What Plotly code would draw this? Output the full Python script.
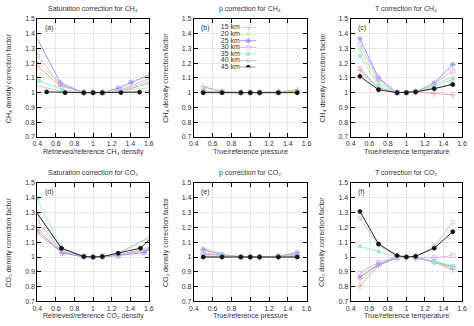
import plotly.graph_objects as go

# ---------------- data ----------------
alt_names = ["15 km", "20 km", "25 km", "30 km", "35 km", "40 km", "45 km"]
x_true = [0.5, 0.7, 0.9, 1.0, 1.1, 1.3, 1.5]

# (a) saturation correction CH4 (x = retrieved/reference density, per series)
a_x = [
    [0.40, 0.65, 0.90, 1.00, 1.10, 1.30, 1.62],
    [0.40, 0.66, 0.90, 1.00, 1.10, 1.30, 1.62],
    [0.37, 0.65, 0.90, 1.00, 1.10, 1.27, 1.41, 1.62],
    [0.40, 0.65, 0.90, 1.00, 1.10, 1.30, 1.62],
    [0.42, 0.67, 0.90, 1.00, 1.10, 1.30, 1.62],
    [0.38, 0.68, 0.90, 1.00, 1.10, 1.30, 1.62],
    [0.50, 0.70, 0.90, 1.00, 1.10, 1.30, 1.50],
]
a_y = [
    [1.18, 1.045, 1.0, 1.0, 1.0, 1.010, 1.065],
    [1.21, 1.050, 1.0, 1.0, 1.0, 1.015, 1.080],
    [1.40, 1.065, 1.0, 1.0, 1.0, 1.030, 1.070, 1.125],
    [1.25, 1.055, 1.0, 1.0, 1.0, 1.020, 1.100],
    [1.08, 1.020, 1.0, 1.0, 1.0, 1.010, 1.035],
    [1.05, 1.005, 1.0, 1.0, 1.0, 1.005, 1.012],
    [1.005, 1.0, 1.0, 1.0, 1.0, 1.0, 1.003],
]

# (b) pressure correction CH4
b_y = [
    [1.040, 1.010, 1.0, 1.0, 1.0, 1.005, 1.015],
    [1.030, 1.010, 1.0, 1.0, 1.0, 1.005, 1.020],
    [1.010, 1.003, 1.0, 1.0, 1.0, 1.002, 1.006],
    [1.005, 1.002, 1.0, 1.0, 1.0, 1.001, 1.004],
    [1.002, 1.001, 1.0, 1.0, 1.0, 1.000, 1.002],
    [1.001, 1.000, 1.0, 1.0, 1.0, 1.000, 1.001],
    [1.000, 1.000, 1.0, 1.0, 1.0, 1.000, 1.000],
]

# (c) temperature correction CH4
c_y = [
    [1.150, 1.030, 1.0, 1.0, 1.005, 0.995, 0.985],
    [1.290, 1.070, 1.0, 1.0, 1.005, 1.050, 1.110],
    [1.365, 1.100, 1.0, 1.0, 1.005, 1.065, 1.190],
    [1.325, 1.090, 1.0, 1.0, 1.005, 1.060, 1.145],
    [1.250, 1.050, 1.0, 1.0, 1.005, 1.040, 1.090],
    [1.165, 1.030, 1.0, 1.0, 1.005, 1.030, 1.060],
    [1.110, 1.020, 1.0, 1.0, 1.005, 1.027, 1.055],
]

# (d) saturation correction CO2 (x = retrieved/reference density, per series)
d_x = [
    [0.40, 0.67, 0.90, 1.00, 1.10, 1.27, 1.62],
    [0.40, 0.67, 0.90, 1.00, 1.10, 1.27, 1.62],
    [0.40, 0.67, 0.90, 1.00, 1.10, 1.27, 1.55, 1.62],
    [0.40, 0.66, 0.90, 1.00, 1.10, 1.27, 1.62],
    [0.40, 0.66, 0.90, 1.00, 1.10, 1.27, 1.62],
    [0.40, 0.66, 0.90, 1.00, 1.10, 1.27, 1.62],
    [0.37, 0.66, 0.90, 1.00, 1.10, 1.27, 1.51, 1.65],
]
d_y = [
    [1.160, 1.030, 1.003, 1.0, 1.003, 1.012, 1.050],
    [1.200, 1.035, 1.003, 1.0, 1.003, 1.015, 1.055],
    [1.180, 1.026, 1.003, 1.0, 1.003, 1.010, 1.030, 1.055],
    [1.245, 1.040, 1.003, 1.0, 1.003, 1.015, 1.065],
    [1.390, 1.060, 1.003, 1.0, 1.003, 1.025, 1.140],
    [1.300, 1.060, 1.003, 1.0, 1.003, 1.025, 1.135],
    [1.320, 1.059, 1.003, 1.0, 1.003, 1.026, 1.060, 1.145],
]

# (e) pressure correction CO2
e_y = [
    [1.020, 1.010, 1.0, 1.0, 1.0, 1.000, 1.010],
    [1.060, 1.020, 1.0, 1.0, 1.0, 1.005, 1.020],
    [1.050, 1.015, 1.0, 1.0, 1.0, 1.005, 1.030],
    [1.030, 1.010, 1.0, 1.0, 1.0, 1.005, 1.020],
    [1.010, 1.005, 1.0, 1.0, 1.0, 1.000, 1.005],
    [1.002, 1.001, 1.0, 1.0, 1.0, 1.000, 1.001],
    [1.000, 1.000, 1.0, 1.0, 1.0, 1.000, 1.000],
]

# (f) temperature correction CO2
f_y = [
    [0.805, 0.945, 0.995, 1.0, 0.995, 0.965, 0.915],
    [0.840, 0.950, 0.997, 1.0, 0.997, 0.968, 0.925],
    [0.865, 0.950, 0.995, 1.0, 0.995, 0.970, 0.935],
    [0.890, 0.965, 1.000, 1.0, 1.000, 0.995, 1.010],
    [1.072, 1.037, 1.000, 1.0, 1.000, 0.970, 0.940],
    [1.263, 1.080, 1.005, 1.0, 1.003, 1.070, 1.235],
    [1.307, 1.088, 1.010, 1.0, 1.005, 1.060, 1.171],
]

x_ticks = [0.4, 0.6, 0.8, 1.0, 1.2, 1.4, 1.6]
x_tick_labels = ["0.4", "0.6", "0.8", "1", "1.2", "1.4", "1.6"]
y_ticks = [0.7, 0.8, 0.9, 1.0, 1.1, 1.2, 1.3, 1.4, 1.5]
y_tick_labels = ["0.7", "0.8", "0.9", "1", "1.1", "1.2", "1.3", "1.4", "1.5"]

titles = ["Saturation correction for CH₄", "p correction for CH₄",
          "T correction for CH₄", "Saturation correction for CO₂",
          "p correction for CO₂", "T correction for CO₂"]
xlabels = ["Retrieved/reference CH₄ density", "True/reference pressure",
           "True/reference temperature", "Retrieved/reference CO₂ density",
           "True/reference pressure", "True/reference temperature"]
ylabels = ["CH₄ density correction factor"] * 3 + ["CO₂ density correction factor"] * 3
panel_tags = ["(a)", "(b)", "(c)", "(d)", "(e)", "(f)"]

# ---------------- styles ----------------
colors = ["#f49a9a", "#b4e88a", "#8c8cf7", "#dcaaf7", "#96ecd8", "#c0c0c0", "#151515"]
symbols = ["cross-thin", "x-thin", "asterisk", "square-open", "square", "circle-open", "circle"]
msizes = [5, 4, 5, 4, 3, 4, 4]
FONT = "Liberation Sans, DejaVu Sans, Arial, sans-serif"
FS = 7
TXT = "#333333"

panel_x = [a_x, [x_true] * 7, [x_true] * 7, d_x, [x_true] * 7, [x_true] * 7]
panel_y = [a_y, b_y, c_y, d_y, e_y, f_y]

dom_x = [[0.0696, 0.310], [0.407, 0.650], [0.745, 0.985]]
dom_y = [[0.583, 0.954], [0.0675, 0.439]]

fig = go.Figure()
layout = {}
annotations = []
for p in range(6):
    r, c = divmod(p, 3)
    n = p + 1
    xa = "x" if n == 1 else f"x{n}"
    ya = "y" if n == 1 else f"y{n}"
    for s in range(7):
        fig.add_trace(go.Scatter(
            x=panel_x[p][s], y=panel_y[p][s], mode="lines+markers",
            xaxis=xa, yaxis=ya, showlegend=False, name=alt_names[s],
            line=dict(color=colors[s], width=0.9),
            marker=dict(symbol=symbols[s], size=msizes[s], color=colors[s],
                        line=dict(color=colors[s], width=0.8)),
        ))
    common = dict(showline=True, linecolor="black", linewidth=1, mirror="allticks",
                  ticks="inside", ticklen=4, tickcolor="black", tickwidth=1,
                  showgrid=True, gridcolor="#e6e6e6", gridwidth=0.6, zeroline=False,
                  tickfont=dict(size=FS, family=FONT, color=TXT))
    layout["xaxis" if n == 1 else f"xaxis{n}"] = dict(
        common, domain=dom_x[c], range=[0.4, 1.6], tickvals=x_ticks, ticktext=x_tick_labels,
        anchor=ya)
    layout["yaxis" if n == 1 else f"yaxis{n}"] = dict(
        common, domain=dom_y[r], range=[0.7, 1.5], tickvals=y_ticks, ticktext=y_tick_labels,
        anchor=xa)
    xd = f"{xa} domain"
    yd = f"{ya} domain"
    annotations += [
        dict(text=titles[p], xref=xd, yref=yd, x=0.5, y=1, yanchor="middle", yshift=10,
             showarrow=False, font=dict(size=FS, family=FONT, color=TXT)),
        dict(text=xlabels[p], xref=xd, yref=yd, x=0.5, y=0, yanchor="middle", yshift=-15,
             showarrow=False, font=dict(size=FS, family=FONT, color=TXT)),
        dict(text=ylabels[p], xref=xd, yref=yd, x=0, y=0.5, xanchor="center", xshift=-28,
             textangle=-90, showarrow=False, font=dict(size=FS, family=FONT, color=TXT)),
        dict(text=panel_tags[p], xref=xd, yref=yd, x=0.05, y=0.975, xanchor="left", yanchor="top",
             showarrow=False, font=dict(size=FS, family=FONT, color=TXT)),
    ]

# gnuplot-style key inside panel (b), drawn on a hidden axis
key_rows = list(range(7))
for s in range(7):
    row = [key_rows[s]]
    fig.add_trace(go.Scatter(
        x=[0, 2], y=row * 2, mode="lines", xaxis="x7", yaxis="y7",
        showlegend=False, hoverinfo="skip", line=dict(color=colors[s], width=0.9),
    ))
    fig.add_trace(go.Scatter(
        x=[1], y=row, mode="markers", xaxis="x7", yaxis="y7",
        showlegend=False, hoverinfo="skip",
        marker=dict(symbol=symbols[s], size=msizes[s], color=colors[s],
                    line=dict(color=colors[s], width=0.8)),
    ))
    fig.add_trace(go.Scatter(
        x=[0], y=row, mode="text", text=[alt_names[s]], textposition="middle left",
        textfont=dict(size=FS, family=FONT, color=TXT), xaxis="x7", yaxis="y7",
        showlegend=False, hoverinfo="skip", cliponaxis=False,
    ))
layout["xaxis7"] = dict(domain=[240 / 474, 257 / 474], range=[0, 2], visible=False, anchor="y7")
layout["yaxis7"] = dict(domain=[1 - 64.7 / 326, 1 - 24 / 326], range=[6, 0], visible=False, anchor="x7")

fig.update_layout(**layout)
fig.update_layout(
    width=474, height=326, margin=dict(l=0, r=0, t=0, b=0),
    plot_bgcolor="white", paper_bgcolor="white",
    annotations=annotations, showlegend=False,
    font=dict(family=FONT, size=FS, color=TXT),
)
fig.write_html("out.html")
